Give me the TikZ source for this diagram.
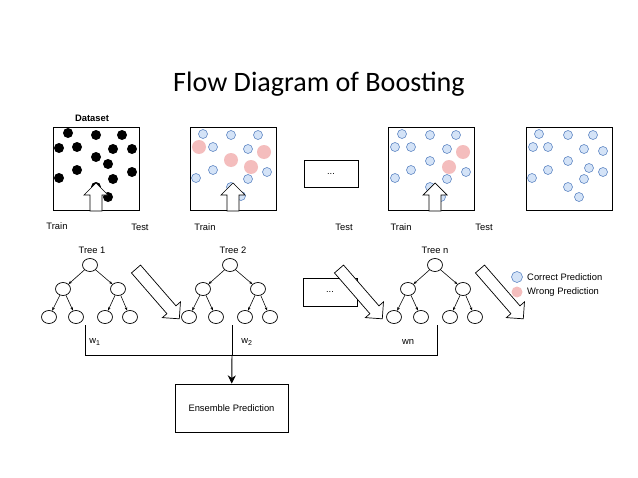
\documentclass[tikz,border=0pt]{standalone}
\usepackage{fontspec}
\setmainfont{Liberation Sans}
\newfontfamily\titlefont{Carlito}
\usetikzlibrary{arrows.meta, shadows, shapes.geometric}
\definecolor{okblue}{HTML}{D4E3F7}
\definecolor{okedge}{HTML}{5E86C4}
\definecolor{badpink}{HTML}{F4BDBD}

\begin{document}
\begin{tikzpicture}[x=0.03cm, y=-0.03cm,
  panel/.style={draw, line width=0.8pt, fill=white, drop shadow={shadow xshift=1pt, shadow yshift=-1pt, opacity=0.3}},
  lbl/.style={font=\fontsize{8}{9}\selectfont, inner sep=0pt},
  blk/.style={circle, fill=black, minimum size=10*0.03cm, inner sep=0pt},
  ok/.style={circle, draw=okedge, fill=okblue, line width=0.5pt, minimum size=9*0.03cm, inner sep=0pt},
  bad/.style={circle, fill=badpink, minimum size=14*0.03cm, inner sep=0pt},
  tn/.style={ellipse, draw, line width=0.6pt, minimum width=15*0.03cm, minimum height=13*0.03cm, inner sep=0pt},
  te/.style={-{Stealth[length=3pt]}, line width=0.5pt},
  hollow/.style={draw, line width=0.6pt, fill=white},
  link/.style={line width=0.8pt}
]
\useasboundingbox (0,0) rectangle (638,478);

\node[font=\titlefont\fontsize{24}{28}\selectfont] (title) at (319,84) {Flow Diagram of Boosting};

% panels
\node[panel, minimum width=86*0.03cm, minimum height=83*0.03cm] (b1) at (96,168.5) {};
\node[panel, minimum width=86*0.03cm, minimum height=83*0.03cm] (b2) at (233,168.5) {};
\node[panel, minimum width=86*0.03cm, minimum height=83*0.03cm] (b3) at (431,168.5) {};
\node[panel, minimum width=86*0.03cm, minimum height=83*0.03cm] (b4) at (569,168.5) {};
\node[panel, minimum width=54*0.03cm, minimum height=27*0.03cm, lbl] (d1) at (331,173.5) {...};
\node[panel, minimum width=54*0.03cm, minimum height=28*0.03cm, lbl] (d2) at (330,292) {...};
\node[lbl, font=\fontsize{8}{9}\selectfont\bfseries] (ds) at (92,118) {Dataset};

% dataset points
\foreach \p in {(68,133),(96,135),(122,135),(59,148),(77,147),(113,149),(132,149),(96,157),(108,164),(77,170),(132,172),(59,178),(113,179),(96,187),(108,197)}
  \node[blk] at \p {};
% panel 2
\foreach \p in {(199,147),(231,160),(251,167),(264,152)} \node[bad] at \p {};
\foreach \p in {(203,134),(231,135),(258,135),(213,147),(248,149),(267,172),(213,170),(196,178),(248,179),(231,187),(241,196)}
  \node[ok] at \p {};
% panel 3
\foreach \p in {(463,152),(449,167)} \node[bad] at \p {};
\foreach \p in {(402,134),(430,135),(456,135),(395,147),(411,147),(447,149),(430,161),(411,170),(466,172),(395,178),(447,179),(430,187),(441,197)}
  \node[ok] at \p {};
% panel 4
\foreach \p in {(539,134),(568,135),(593,135),(533,147),(548,147),(584,149),(603,151),(568,161),(548,170),(589,168),(603,172),(532,178),(584,179),(568,187),(579,197)}
  \node[ok] at \p {};

% hollow arrows: (x,y) tail centre, angle, length
\newcommand{\hollowarr}[4]{%
  \draw[hollow, shift={(#1,#2)}, rotate=#3]
    (0,-6) -- (#4-12,-6) -- (#4-12,-12) -- (#4,0) -- (#4-12,12) -- (#4-12,6) -- (0,6) -- cycle;}
\hollowarr{96}{211}{90}{28}
\hollowarr{233}{211}{90}{28}
\hollowarr{435}{211}{90}{28}
\hollowarr{136}{269}{-49}{66}
\hollowarr{339}{269}{-49}{66}
\hollowarr{480}{269}{-49}{66}

% labels
\node[lbl] (tr1) at (57,226) {Train};
\node[lbl] (tr2) at (205,227) {Train};
\node[lbl] (tr3) at (401,227) {Train};
\node[lbl] (ts1) at (140,227) {Test};
\node[lbl] (ts2) at (344,227) {Test};
\node[lbl] (ts3) at (484,227) {Test};
\node[lbl] (t1) at (92,250) {Tree 1};
\node[lbl] (t2) at (233,250) {Tree 2};
\node[lbl] (t3) at (435,250) {Tree n};

% trees
\newcommand{\mktree}[2]{%
  \node[tn] (#1r) at (#2,265) {};
  \node[tn] (#1a) at (#2-27,289) {};
  \node[tn] (#1b) at (#2+28,289) {};
  \node[tn] (#1a1) at (#2-41,317) {};
  \node[tn] (#1a2) at (#2-14,317) {};
  \node[tn] (#1b1) at (#2+15,317) {};
  \node[tn] (#1b2) at (#2+40,317) {};
  \draw[te] (#1r) -- (#1a);
  \draw[te] (#1r) -- (#1b);
  \draw[te] (#1a) -- (#1a1);
  \draw[te] (#1a) -- (#1a2);
  \draw[te] (#1b) -- (#1b1);
  \draw[te] (#1b) -- (#1b2);}
\mktree{p}{90}
\mktree{q}{230}
\mktree{s}{435}

% legend
\node[ok, minimum size=11*0.03cm] (lg1) at (517,277) {};
\node[bad, minimum size=11*0.03cm] (lg2) at (517,292) {};
\node[lbl, anchor=west] at (527,277) {Correct Prediction};
\node[lbl, anchor=west] at (527,292) {Wrong Prediction};

% combination
\coordinate (c1) at (85,325);
\coordinate (c2) at (232,325);
\coordinate (c3) at (437,325);
\coordinate (h1) at (85,355);
\coordinate (h2) at (232,355);
\coordinate (h3) at (437,355);
\node[panel, minimum width=113*0.03cm, minimum height=48*0.03cm, lbl] (ens) at (231.5,408) {Ensemble Prediction};
\draw[link] (c1) -- (h1) -- (h3) -- (c3);
\draw[link] (c2) -- (h2);
\draw[link, -{Stealth[length=7pt, width=7pt]}] (h2) -- (ens);
\node[lbl] (w1) at (95,342) {w\textsubscript{1}};
\node[lbl] (w2) at (247,342) {w\textsubscript{2}};
\node[lbl] (wn) at (408,342) {wn};
\end{tikzpicture}
\end{document}
